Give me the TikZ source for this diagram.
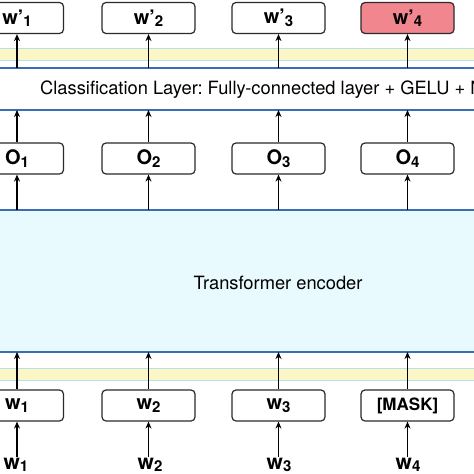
\documentclass[tikz,border=0pt]{standalone}
\usepackage{fontspec}
\setmainfont{TeX Gyre Heros}
\usetikzlibrary{arrows.meta}
\frenchspacing
\definecolor{bandblue}{HTML}{3A6DB5}
\definecolor{lightline}{HTML}{B9DFEA}
\definecolor{bandyellow}{HTML}{FAF6C6}
\definecolor{enccyan}{HTML}{E8FAFD}
\definecolor{boxpink}{HTML}{F2868F}
\definecolor{boxedge}{HTML}{2B2B2B}
\newcommand\sbs[1]{\raisebox{-2.5pt}{\fontsize{15}{15}\selectfont #1}}
\tikzset{
  wbox/.style={draw=boxedge, line width=1.2pt, rounded corners=4pt, minimum width=93pt, minimum height=31pt, inner sep=0pt, font=\fontsize{20}{22}\selectfont\bfseries, fill=white},
  band/.style={minimum width=474pt, inner sep=0pt, outer sep=0pt},
  bandline/.style={draw=bandblue, line width=1.4pt},
  arr/.style={draw=black, line width=1.2pt, -{Stealth[length=7pt,width=6pt]}},
  lbl/.style={font=\fontsize{21}{23}\selectfont\bfseries, inner sep=1pt},
  txt/.style={font=\fontsize{18.3}{20}\selectfont, inner sep=0pt}
}
\begin{document}
\begin{tikzpicture}[x=1pt,y=-1pt]
\useasboundingbox (0,0) rectangle (474,474);
\clip (0,0) rectangle (474,474);
\fill[white] (0,0) rectangle (474,474);
% yellow bands
\node[band, minimum height=12pt, fill=bandyellow] (ytop) at (237,54) {};
\draw[lightline, line width=1pt] (ytop.north west) -- (ytop.north east) (ytop.south west) -- (ytop.south east);
\node[band, minimum height=12pt, fill=bandyellow] (ybot) at (237,374) {};
\draw[lightline, line width=1pt] (ybot.north west) -- (ybot.north east) (ybot.south west) -- (ybot.south east);
% classification band
\node[band, minimum height=42pt] (cls) at (237,89) {};
\draw[bandline] (cls.north west) -- (cls.north east) (cls.south west) -- (cls.south east);
\node[txt, anchor=west] (clstext) at (40,90) {Classification Layer: Fully-connected layer + GELU + Norm};
% encoder band
\node[band, minimum height=142pt, fill=enccyan] (enc) at (237,281) {};
\draw[bandline] (enc.north west) -- (enc.north east) (enc.south west) -- (enc.south east);
\node[txt] (enctext) at (278,283) {Transformer encoder};
% top boxes
\node[wbox] (t1) at (17,18) {w’\sbs{1}};
\node[wbox] (t2) at (148.5,18) {w’\sbs{2}};
\node[wbox] (t3) at (278.5,18) {w’\sbs{3}};
\node[wbox, fill=boxpink] (t4) at (407.5,18) {w’\sbs{4}};
% O boxes
\node[wbox] (o1) at (17,158.5) {O\sbs{1}};
\node[wbox] (o2) at (148.5,158.5) {O\sbs{2}};
\node[wbox] (o3) at (278.5,158.5) {O\sbs{3}};
\node[wbox] (o4) at (407.5,158.5) {O\sbs{4}};
% bottom boxes
\node[wbox] (b1) at (17,405.5) {w\sbs{1}};
\node[wbox] (b2) at (148.5,405.5) {w\sbs{2}};
\node[wbox] (b3) at (278.5,405.5) {w\sbs{3}};
\node[wbox, font=\fontsize{17}{19}\selectfont\bfseries] (b4) at (407.5,405.5) {[MASK]};
% labels
\node[lbl] (l1) at (16,465) {w\sbs{1}};
\node[lbl] (l2) at (150,465) {w\sbs{2}};
\node[lbl] (l3) at (279,465) {w\sbs{3}};
\node[lbl] (l4) at (408,465) {w\sbs{4}};
% arrows
\foreach \i in {1,2,3,4}{
  \draw[arr] (cls.north -| t\i) -- (t\i.south);
  \draw[arr] (o\i.north) -- (cls.south -| o\i);
  \draw[arr] (enc.north -| o\i) -- (o\i.south);
  \draw[arr] (b\i.north) -- (enc.south -| b\i);
  \draw[arr] (l\i.north -| b\i) -- (b\i.south);
}
\end{tikzpicture}
\end{document}
